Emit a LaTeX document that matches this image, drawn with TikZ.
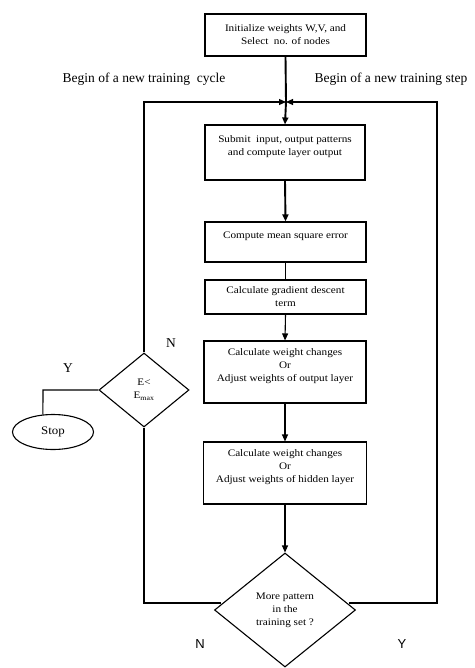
\documentclass[tikz,border=0pt]{standalone}
\usepackage{fontspec}
\setmainfont{Liberation Serif}
\newfontfamily\boxfont[FakeStretch=1.12]{Liberation Serif}
\newfontfamily\arialfont{Liberation Sans}
\usetikzlibrary{shapes.geometric,arrows.meta}
\begin{document}
\begin{tikzpicture}[x=1pt,y=-1pt,
  box/.style={draw,line width=1.1pt,rectangle,align=center,font=\boxfont\fontsize{10}{13}\selectfont,inner sep=2pt},
  dia/.style={draw,line width=1.1pt,diamond,align=center,inner sep=0pt,font=\boxfont\fontsize{10}{13}\selectfont},
  con/.style={line width=1.1pt},
  thk/.style={line width=1.9pt},
  arr/.style={-{Triangle[length=7pt,width=6pt]}},
  lab/.style={font=\fontsize{13.5}{15}\selectfont},
  slab/.style={font=\arialfont\fontsize{13}{15}\selectfont}]
\useasboundingbox (0,0) rectangle (474,668);
\node[box,minimum width=161pt,minimum height=42pt] (init) at (285.5,35) {Initialize weights W,V, and\\Select~ no. of nodes};
\coordinate (J) at (286,102);
\node[box,minimum width=160pt,minimum height=55pt] (sub) at (285,152.5) {Submit~ input, output patterns\\and compute layer output\\~};
\node[box,minimum width=161pt,minimum height=40pt] (mse) at (285.5,242) {Compute mean square error\\~};
\node[box,minimum width=161pt,minimum height=34pt] (grad) at (285.5,297) {Calculate gradient descent\\term};
\node[box,minimum width=162pt,minimum height=62pt] (out) at (285,372) {Calculate weight changes\\Or\\Adjust weights of output layer\\~};
\node[box,minimum width=163pt,minimum height=62pt] (hid) at (285,473) {Calculate weight changes\\Or\\Adjust weights of hidden layer\\~};
\node[dia,minimum width=141pt,minimum height=114pt] (more) at (285,610) {More pattern\\in the\\training set ?};
\node[dia,minimum width=90pt,minimum height=74pt] (emax) at (144,390) {E<\\E\textsubscript{max}};
\node[draw,line width=1.1pt,ellipse,minimum width=81pt,minimum height=35pt,inner sep=0pt,font=\boxfont\fontsize{11.5}{13}\selectfont] (stop) at (53,432) {Stop};
% labels
\node[lab] (lcyc) at (144,79) {Begin of a new training~ cycle};
\node[lab] (lstep) at (391,79) {Begin of a new training step};
\node[lab] (ln1) at (171,343) {N};
\node[lab] (ly1) at (68,368) {Y};
\node[slab] (ln2) at (200,644) {N};
\node[slab] (ly2) at (402,644) {Y};
% connectors
\draw[thk] (init.south) -- (J);
\draw[thk,arr] (J) -- (sub.north);
\draw[thk,arr] (sub.south) -- (mse.north);
\draw[con] (mse.south) -- (grad.north);
\draw[con,arr] (grad.south) -- (out.north);
\draw[con,arr] (out.south) -- (hid.north);
\draw[con,arr] (hid.south) -- (more.north);
\coordinate (mr) at (349,603);
\coordinate (ml) at (221,603);
\draw[con,arr] (mr) -- (437,603) -- (437,102) -- (J);
\draw[con] (ml) -- (144,603) -- (emax.south);
\draw[con,arr] (emax.north) -- (144,102) -- (J);
\draw[con] (emax.west) -- (43,390) -- (stop.120);
\end{tikzpicture}
\end{document}
